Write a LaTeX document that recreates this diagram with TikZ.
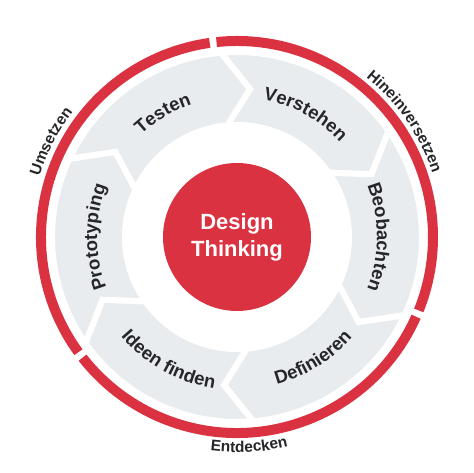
\documentclass[tikz,border=0pt]{standalone}
\usepackage{fontspec}
\setmainfont{Liberation Sans}
\usetikzlibrary{decorations.text}

\definecolor{dtred}{RGB}{218,50,64}
\definecolor{dtgray}{RGB}{233,236,238}
\definecolor{dtink}{RGB}{38,38,42}

\newcommand{\segfont}{\fontsize{18.5}{18.5}\selectfont\bfseries}
\newcommand{\phasefont}{\fontsize{15.5}{15.5}\selectfont\bfseries}

\tikzset{
	seg/.style={fill=dtgray, draw=white, line width=6pt, line join=miter},
	phase/.style={draw=dtred, line width=10pt},
	seglabel/.style={decorate, decoration={text along path, text align=center, text color=dtink, text={|\segfont|#1}}},
	phaselabel/.style={decorate, decoration={text along path, text align=center, text color=dtink, text={|\phasefont|#1}}},
}

\begin{document}
\begin{tikzpicture}[x=1pt, y=1pt]
	\useasboundingbox (-237pt,-236pt) rectangle (237pt,237pt);
	
	% arrow segments
	\filldraw[seg] (95:185pt) arc[start angle=95, end angle=35, radius=185pt] -- (25:148.5pt) -- (35:112pt) arc[start angle=35, end angle=95, radius=112pt] -- (85:148.5pt) -- cycle;
	\filldraw[seg, rotate=-60] (95:185pt) arc[start angle=95, end angle=35, radius=185pt] -- (25:148.5pt) -- (35:112pt) arc[start angle=35, end angle=95, radius=112pt] -- (85:148.5pt) -- cycle;
	\filldraw[seg, rotate=-120] (95:185pt) arc[start angle=95, end angle=35, radius=185pt] -- (25:148.5pt) -- (35:112pt) arc[start angle=35, end angle=95, radius=112pt] -- (85:148.5pt) -- cycle;
	\filldraw[seg, rotate=-180] (95:185pt) arc[start angle=95, end angle=35, radius=185pt] -- (25:148.5pt) -- (35:112pt) arc[start angle=35, end angle=95, radius=112pt] -- (85:148.5pt) -- cycle;
	\filldraw[seg, rotate=-240] (95:185pt) arc[start angle=95, end angle=35, radius=185pt] -- (25:148.5pt) -- (35:112pt) arc[start angle=35, end angle=95, radius=112pt] -- (85:148.5pt) -- cycle;
	\filldraw[seg, rotate=-300] (95:185pt) arc[start angle=95, end angle=35, radius=185pt] -- (25:148.5pt) -- (35:112pt) arc[start angle=35, end angle=95, radius=112pt] -- (85:148.5pt) -- cycle;
	
	% outer ring
	\draw[phase] (96:196pt) arc[start angle=96, end angle=-22, radius=196pt];
	\draw[phase] (216:196pt) arc[start angle=216, end angle=98, radius=196pt];
	\draw[phase] (336:196pt) arc[start angle=336, end angle=218, radius=196pt];
	
	% centre
	\node[circle, fill=dtred, minimum size=148pt, inner sep=0pt, text=white, align=center, font=\fontsize{22}{27}\selectfont\bfseries] (core) at (0,0) {Design\\Thinking};
	
	% segment labels
	\path[seglabel=Testen] (161:140pt) arc[start angle=161, end angle=81, radius=140pt];
	\path[seglabel=Verstehen] (101:140pt) arc[start angle=101, end angle=21, radius=140pt];
	\path[seglabel=Beobachten] (40:140pt) arc[start angle=40, end angle=-40, radius=140pt];
	\path[seglabel=Definieren] (-98:153pt) arc[start angle=-98, end angle=-18, radius=153pt];
	\path[seglabel={Ideen finden}] (-159:153pt) arc[start angle=-159, end angle=-79, radius=153pt];
	\path[seglabel=Prototyping] (220:140pt) arc[start angle=220, end angle=140, radius=140pt];
	
	% phase labels
	\path[phaselabel=Hineinversetzen] (74.5:205.5pt) arc[start angle=74.5, end angle=-5.5, radius=205.5pt];
	\path[phaselabel=Umsetzen] (192.8:206.5pt) arc[start angle=192.8, end angle=112.8, radius=206.5pt];
	\path[phaselabel=Entdecken] (-126.7:215.5pt) arc[start angle=-126.7, end angle=-46.7, radius=215.5pt];
	
\end{tikzpicture}
\end{document}
